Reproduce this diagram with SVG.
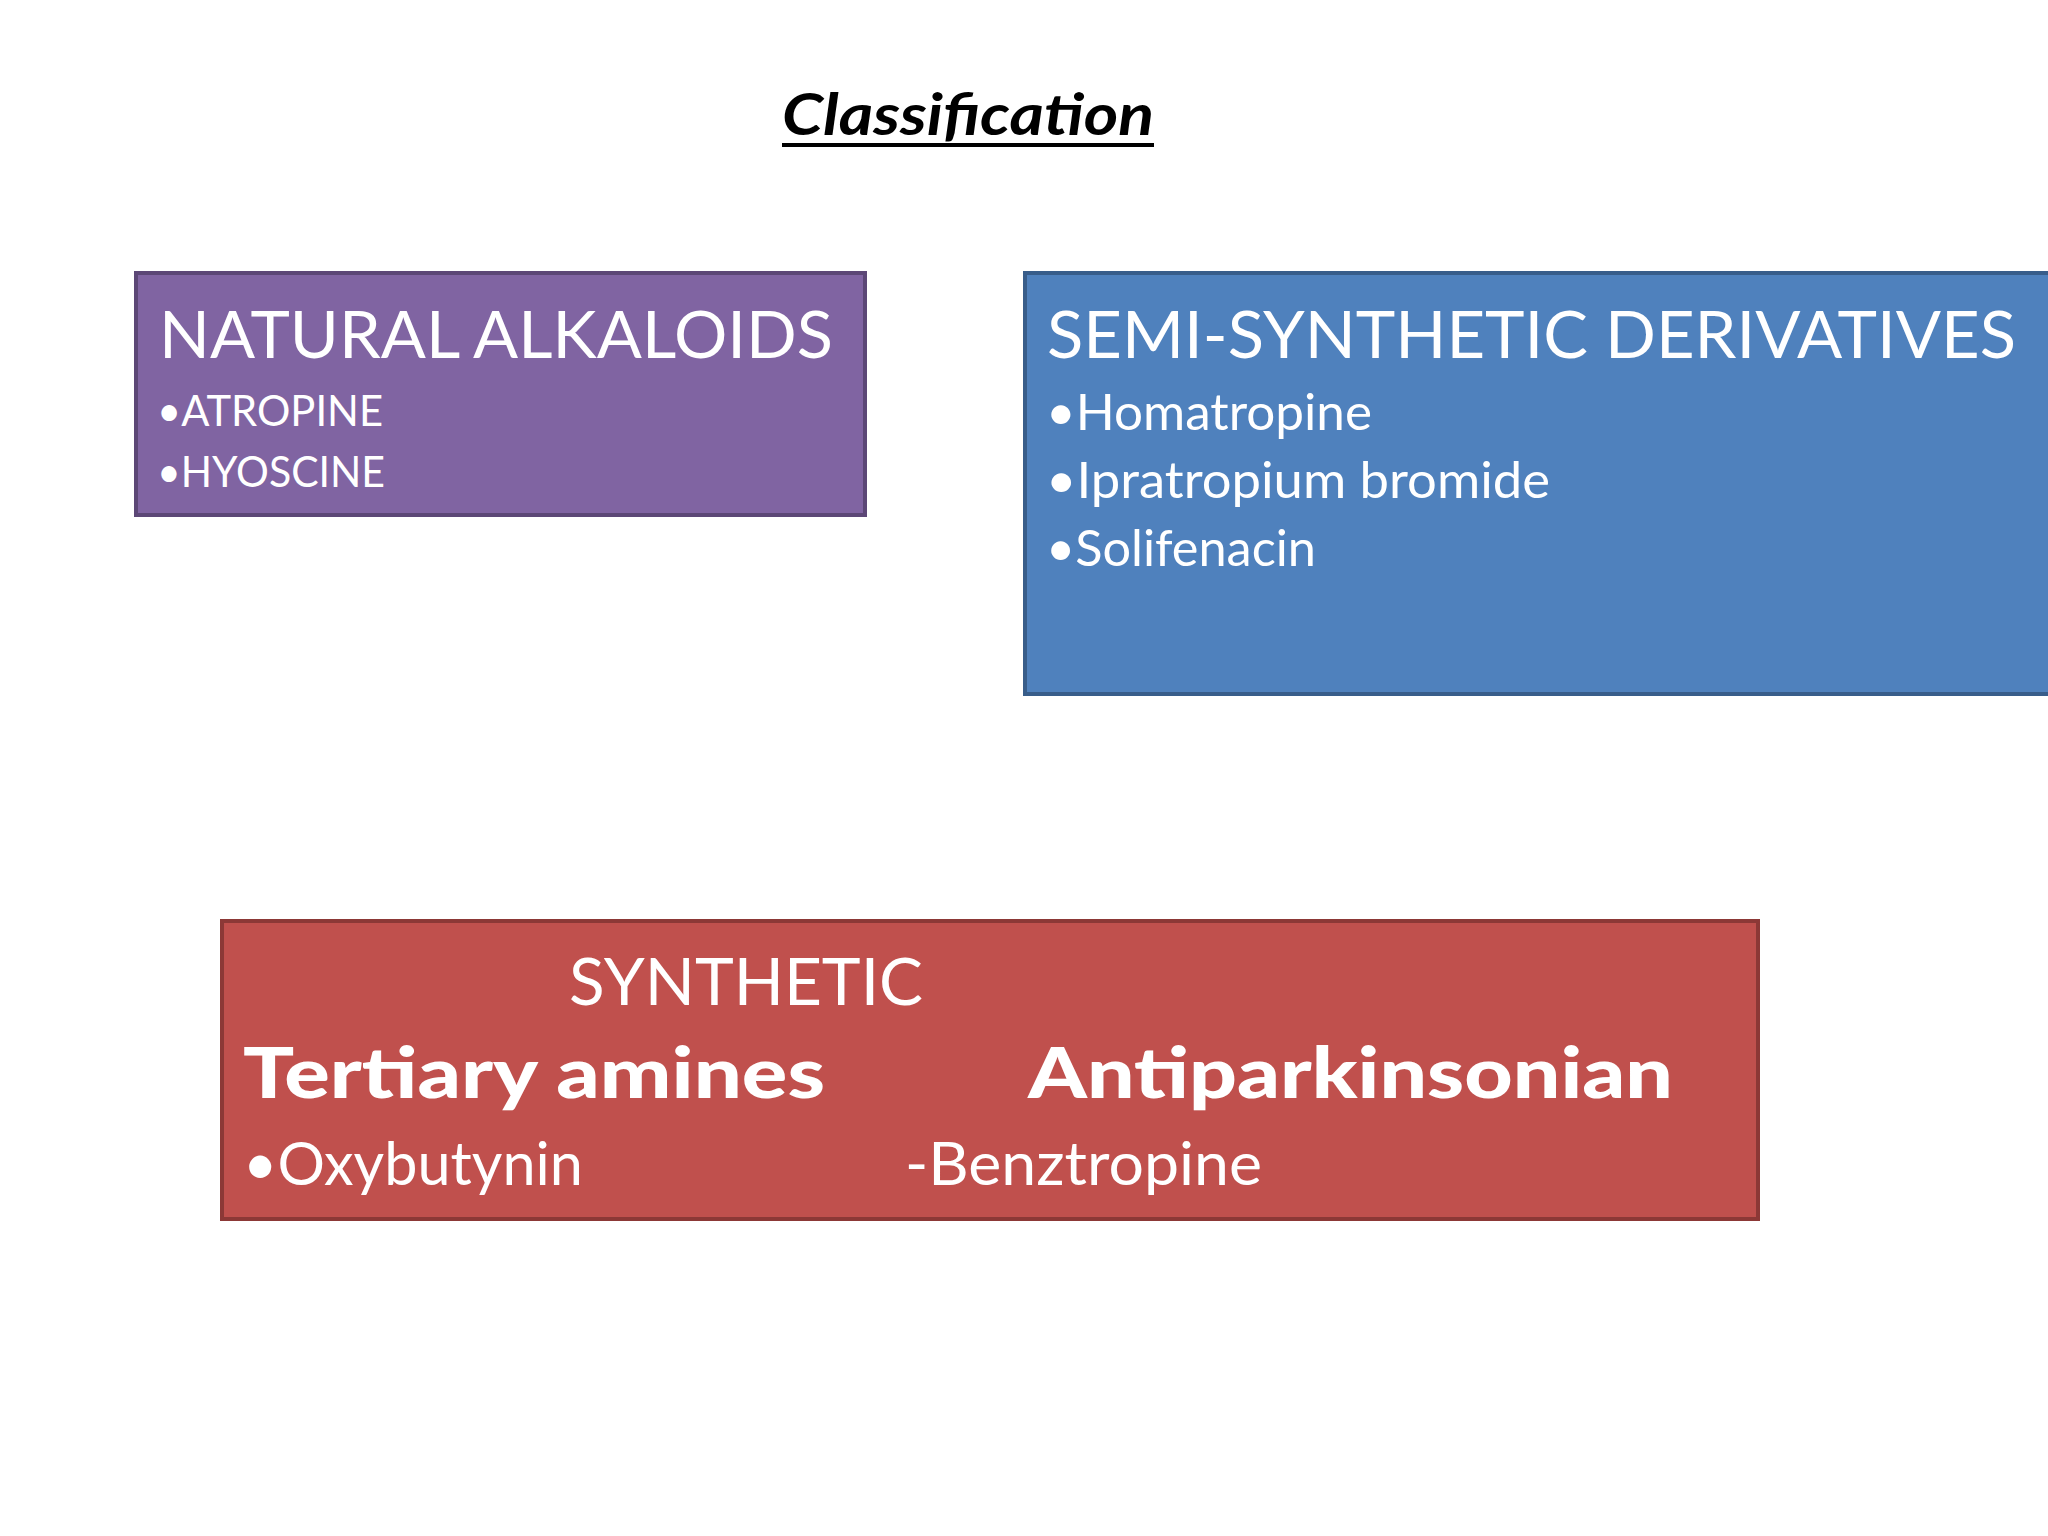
<svg xmlns="http://www.w3.org/2000/svg" width="2048" height="1536" viewBox="0 0 2048 1536">
<style>
.t{font-family:Lato,"Open Sans","Liberation Sans",sans-serif;fill:#fff}
.b{font-family:Lato,"Open Sans","Liberation Sans",sans-serif;font-weight:900;fill:#fff}
</style>
<rect width="2048" height="1536" fill="#fff"/>
<g id="title">
<text x="968" y="135" text-anchor="middle" font-family="Lato,'Liberation Sans',sans-serif" font-weight="bold" font-style="italic" font-size="58" textLength="372" lengthAdjust="spacingAndGlyphs" fill="#000">Classification</text>
<rect x="782" y="143" width="372" height="4" fill="#000"/>
</g>
<g id="natural">
<rect x="136" y="273" width="729" height="242" fill="#8064A2" stroke="#5C4776" stroke-width="4"/>
<text class="t" x="159" y="358" font-size="66" textLength="674" lengthAdjust="spacingAndGlyphs">NATURAL ALKALOIDS</text>
<text class="t" x="157" y="426" font-size="43" textLength="226" lengthAdjust="spacingAndGlyphs">•ATROPINE</text>
<text class="t" x="157" y="487" font-size="43" textLength="228" lengthAdjust="spacingAndGlyphs">•HYOSCINE</text>
</g>
<g id="semi">
<rect x="1025" y="273" width="1030" height="421" fill="#4F81BD" stroke="#385D8A" stroke-width="4"/>
<text class="t" x="1047" y="358" font-size="66" textLength="969" lengthAdjust="spacingAndGlyphs">SEMI-SYNTHETIC DERIVATIVES</text>
<text class="t" x="1046" y="430" font-size="50" textLength="326" lengthAdjust="spacingAndGlyphs">•Homatropine</text>
<text class="t" x="1046" y="498" font-size="50" textLength="504" lengthAdjust="spacingAndGlyphs">•Ipratropium bromide</text>
<text class="t" x="1046" y="566" font-size="50" textLength="270" lengthAdjust="spacingAndGlyphs">•Solifenacin</text>
</g>
<g id="synthetic">
<rect x="222" y="921" width="1536" height="298" fill="#C0504D" stroke="#8C3836" stroke-width="4"/>
<text class="t" x="569" y="1005" font-size="66" textLength="354" lengthAdjust="spacingAndGlyphs">SYNTHETIC</text>
<text class="b" x="243" y="1098" font-size="70" textLength="582" lengthAdjust="spacingAndGlyphs">Tertiary amines</text>
<text class="b" x="1028" y="1098" font-size="70" textLength="645" lengthAdjust="spacingAndGlyphs">Antiparkinsonian</text>
<text class="t" x="243" y="1185" font-size="60" textLength="340" lengthAdjust="spacingAndGlyphs">•Oxybutynin</text>
<text class="t" x="905" y="1185" font-size="60" textLength="357" lengthAdjust="spacingAndGlyphs">-Benztropine</text>
</g>
<g id="connectors"/>
</svg>
